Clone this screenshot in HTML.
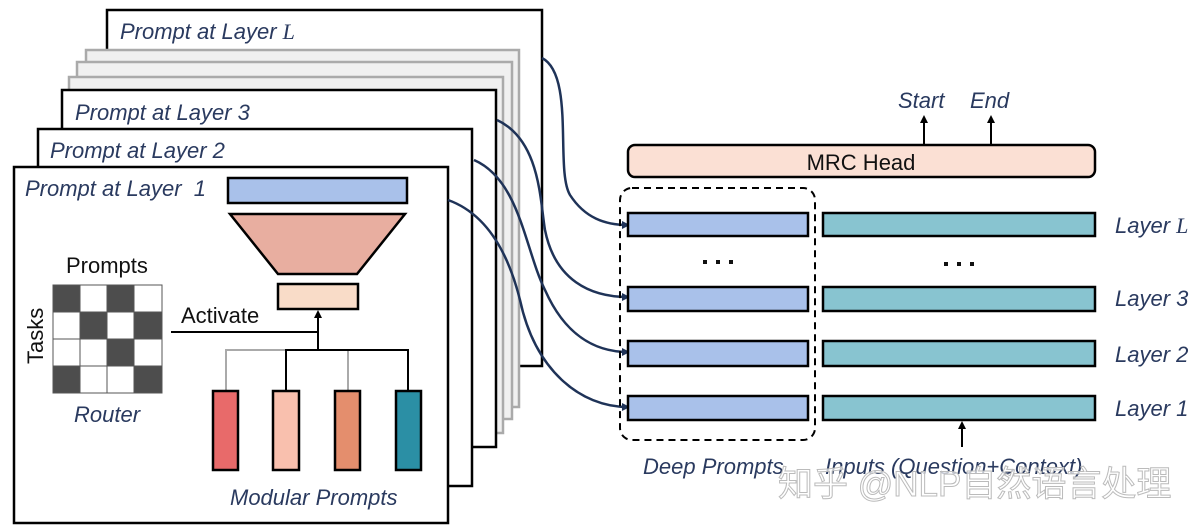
<!DOCTYPE html>
<html><head><meta charset="utf-8"><style>
html,body{margin:0;padding:0;background:#fff;}
svg{display:block}
.it{font-family:"Liberation Sans",sans-serif;font-style:italic;fill:#2a3a5f;font-size:22px}
.n{font-family:"Liberation Sans",sans-serif;fill:#111;font-size:22px}
</style></head><body>
<svg width="1203" height="529" viewBox="0 0 1203 529" xmlns="http://www.w3.org/2000/svg">
<defs><marker id="a" markerWidth="8" markerHeight="8" refX="6" refY="4" orient="auto" markerUnits="userSpaceOnUse"><path d="M0,0 L8,4 L0,8 z" fill="#1f3358"/></marker>
<marker id="b" markerWidth="8" markerHeight="8" refX="6" refY="4" orient="auto" markerUnits="userSpaceOnUse"><path d="M0,0 L8,4 L0,8 z" fill="#000"/></marker></defs>
<rect x="107" y="10" width="435" height="356" fill="#fff" stroke="#000" stroke-width="2.5"/>
<text class="it" x="120" y="39">Prompt at Layer <tspan font-family="Liberation Serif">L</tspan></text>
<rect x="86" y="50" width="433" height="357" fill="#f0f0f0" stroke="#aaa" stroke-width="2.5"/>
<rect x="77" y="62" width="435" height="357" fill="#f0f0f0" stroke="#aaa" stroke-width="2.5"/>
<rect x="69" y="77" width="434" height="356" fill="#f0f0f0" stroke="#aaa" stroke-width="2.5"/>
<rect x="62" y="90" width="434" height="357" fill="#fff" stroke="#000" stroke-width="2.5"/>
<text class="it" x="75" y="120">Prompt at Layer 3</text>
<rect x="38" y="129" width="434" height="357" fill="#fff" stroke="#000" stroke-width="2.5"/>
<text class="it" x="50" y="158">Prompt at Layer 2</text>
<rect x="14" y="167" width="434" height="356" fill="#fff" stroke="#000" stroke-width="2.5"/>
<text class="it" x="25" y="196">Prompt at Layer&#160;&#160;1</text>
<rect x="228" y="178" width="179" height="25" fill="#a9c1ea" stroke="#000" stroke-width="2.5"/>
<polygon points="230,214 405,214 357,274 278,274" fill="#e8aea0" stroke="#000" stroke-width="2.5"/>
<rect x="278" y="284" width="80" height="25" fill="#f9dcc8" stroke="#000" stroke-width="2.5"/>
<line x1="171" y1="332" x2="318" y2="332" stroke="#000" stroke-width="2"/>
<line x1="318" y1="350" x2="318" y2="312" stroke="#000" stroke-width="2" marker-end="url(#b)"/>
<text class="n" x="181" y="323">Activate</text>
<polyline points="226,391 226,350 286,350" fill="none" stroke="#aaa" stroke-width="2"/>
<line x1="348" y1="350" x2="348" y2="391" stroke="#aaa" stroke-width="2"/>
<polyline points="286,391 286,350 408,350 408,391" fill="none" stroke="#000" stroke-width="2"/>
<rect x="213" y="391" width="25" height="79" fill="#e86a6a" stroke="#000" stroke-width="2.5"/>
<rect x="273" y="391" width="26" height="79" fill="#f9c0ae" stroke="#000" stroke-width="2.5"/>
<rect x="335" y="391" width="25" height="79" fill="#e48e6d" stroke="#000" stroke-width="2.5"/>
<rect x="396" y="391" width="25" height="79" fill="#2b8fa5" stroke="#000" stroke-width="2.5"/>
<text class="it" x="230" y="505">Modular Prompts</text>
<g stroke="#555" stroke-width="1">
<rect x="53" y="285" width="109" height="108" fill="#fff"/>
<rect x="53" y="285" width="27" height="27" fill="#4d4d4d"/><rect x="107" y="285" width="27" height="27" fill="#4d4d4d"/>
<rect x="80" y="312" width="27" height="27" fill="#4d4d4d"/><rect x="134" y="312" width="28" height="27" fill="#4d4d4d"/>
<rect x="107" y="339" width="27" height="27" fill="#4d4d4d"/>
<rect x="53" y="366" width="27" height="27" fill="#4d4d4d"/><rect x="134" y="366" width="28" height="27" fill="#4d4d4d"/>
<line x1="80" y1="285" x2="80" y2="393"/><line x1="107" y1="285" x2="107" y2="393"/><line x1="134" y1="285" x2="134" y2="393"/>
<line x1="53" y1="312" x2="162" y2="312"/><line x1="53" y1="339" x2="162" y2="339"/><line x1="53" y1="366" x2="162" y2="366"/>
</g>
<text class="n" x="66" y="273">Prompts</text>
<text class="n" transform="translate(43,364) rotate(-90)">Tasks</text>
<text class="it" x="74" y="422">Router</text>
<g fill="none" stroke="#1f3358" stroke-width="2.5">
<path d="M542,58 C575,75 555,170 570,195 C585,218 605,225 628,225" marker-end="url(#a)"/>
<path d="M497,120 C540,140 540,200 545,230 C555,280 590,297 628,297" marker-end="url(#a)"/>
<path d="M474,160 C520,180 525,250 545,290 C565,335 595,352 628,352" marker-end="url(#a)"/>
<path d="M448,200 C490,215 510,260 520,300 C535,370 580,407 628,407" marker-end="url(#a)"/>
</g>
<rect x="628" y="145" width="467" height="32" rx="7" fill="#fbe0d4" stroke="#000" stroke-width="2.5"/>
<text class="n" x="861" y="170" text-anchor="middle">MRC Head</text>
<line x1="924" y1="145" x2="924" y2="117" stroke="#000" stroke-width="2" marker-end="url(#b)"/>
<line x1="991" y1="145" x2="991" y2="117" stroke="#000" stroke-width="2" marker-end="url(#b)"/>
<text class="it" x="898" y="108">Start</text><text class="it" x="970" y="108">End</text>
<rect x="620" y="188" width="195" height="252" rx="12" fill="none" stroke="#000" stroke-width="2" stroke-dasharray="7,5"/>
<g stroke="#000" stroke-width="2.5" fill="#a9c1ea">
<rect x="628" y="213" width="180" height="23"/><rect x="628" y="287" width="180" height="24"/>
<rect x="628" y="341" width="180" height="25"/><rect x="628" y="396" width="180" height="24"/>
</g>
<g stroke="#000" stroke-width="2.5" fill="#88c4d0">
<rect x="823" y="213" width="272" height="23"/><rect x="823" y="287" width="272" height="24"/>
<rect x="823" y="341" width="272" height="25"/><rect x="823" y="396" width="272" height="24"/>
</g>
<g fill="#111"><rect x="703" y="260" width="4" height="4"/><rect x="716" y="260" width="4" height="4"/><rect x="729" y="260" width="4" height="4"/>
<rect x="944" y="262" width="4" height="4"/><rect x="957" y="262" width="4" height="4"/><rect x="970" y="262" width="4" height="4"/></g>
<text class="it" x="1115" y="233">Layer <tspan font-family="Liberation Serif">L</tspan></text>
<text class="it" x="1115" y="306">Layer 3</text>
<text class="it" x="1115" y="362">Layer 2</text>
<text class="it" x="1115" y="416">Layer 1</text>
<line x1="962" y1="447" x2="962" y2="423" stroke="#000" stroke-width="2" marker-end="url(#b)"/>
<text class="it" x="643" y="474">Deep Prompts</text>
<text class="it" x="825" y="474">Inputs (Question+Context)</text>
<text x="778" y="496" font-family="Liberation Sans,'Noto Sans CJK SC',sans-serif" font-size="35" fill="#fff" fill-opacity="0.7" stroke="#bbb" stroke-width="1">知乎 @NLP自然语言处理</text>
</svg>
</body></html>
